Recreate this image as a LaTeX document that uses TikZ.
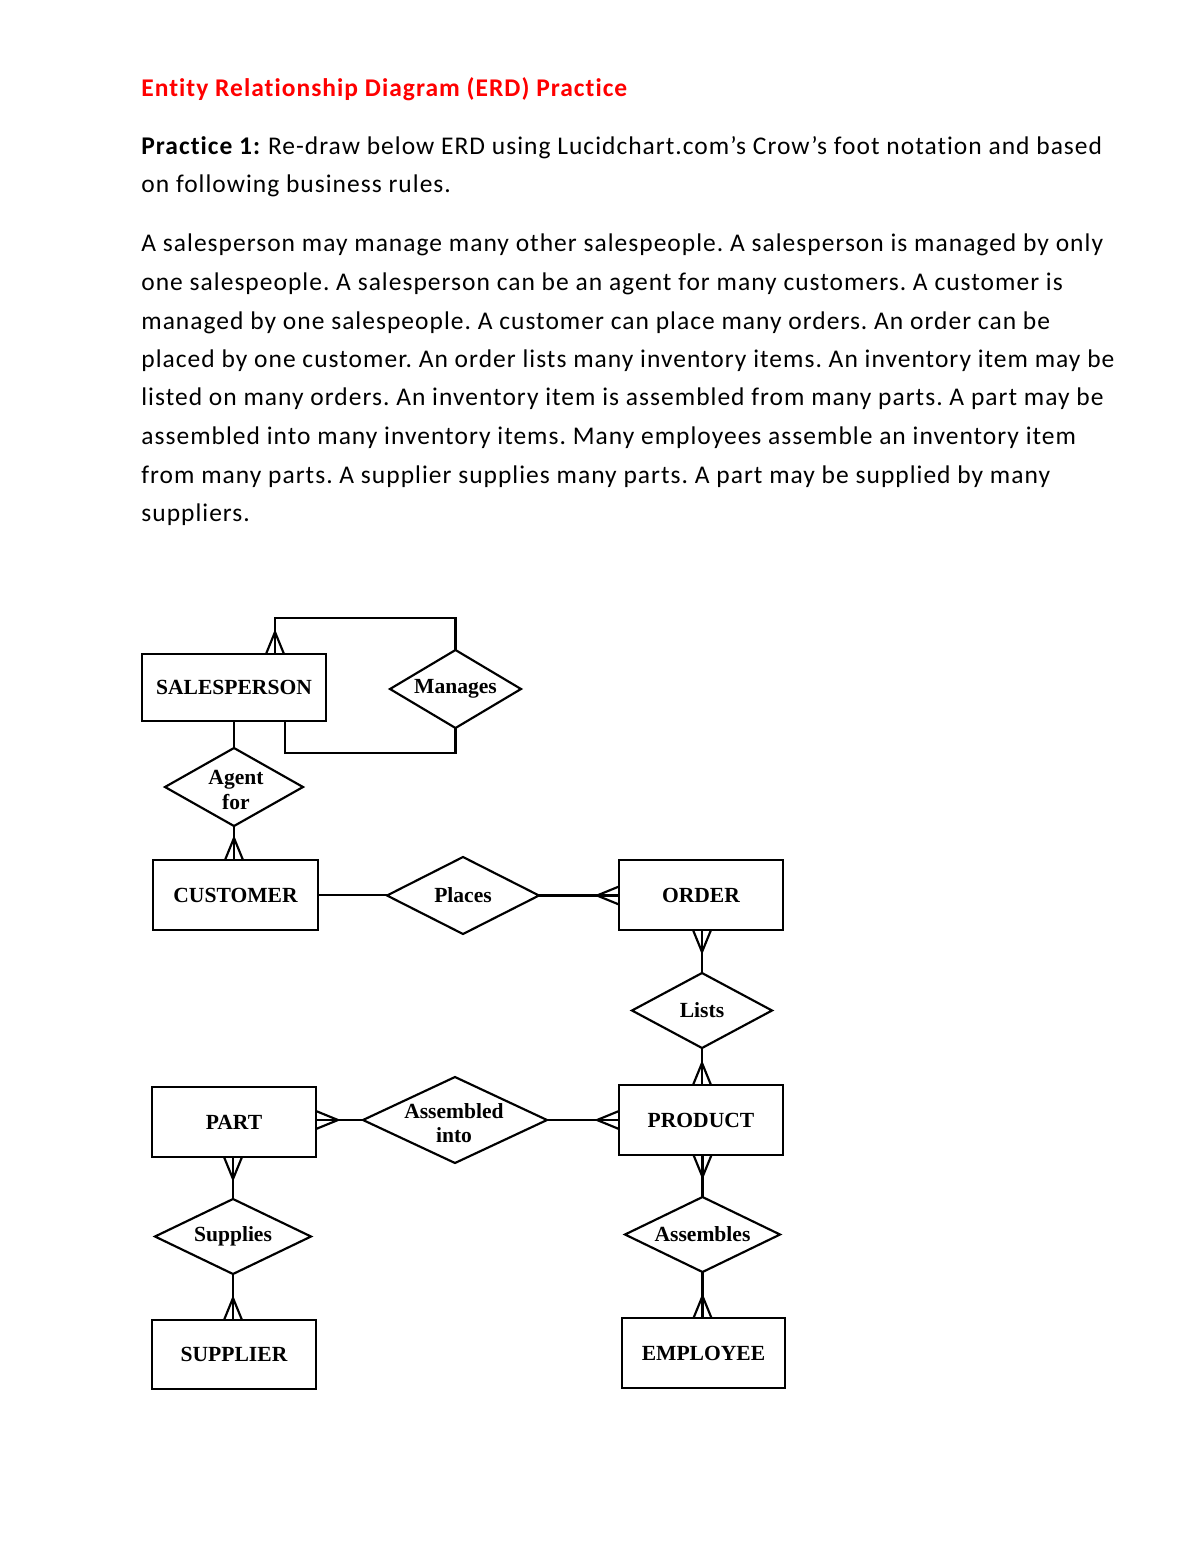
\documentclass[tikz,border=0pt]{standalone}
\usepackage{fontspec}
\setmainfont{Carlito}[LetterSpace=4,Ligatures={NoCommon}]
\newfontfamily\erdfont{Liberation Serif}
\usetikzlibrary{shapes.geometric,calc}
\definecolor{titlered}{RGB}{255,0,0}
\newcommand\px{0.51pt}
\newcommand\crowN[1]{\draw[conn] ($(#1)+(-9,0)$) -- ($(#1)+(0,-22)$) -- ($(#1)+(9,0)$);}
\newcommand\crowS[1]{\draw[conn] ($(#1)+(-9,0)$) -- ($(#1)+(0,22)$) -- ($(#1)+(9,0)$);}
\newcommand\crowW[1]{\draw[conn] ($(#1)+(0,-9)$) -- ($(#1)+(-22,0)$) -- ($(#1)+(0,9)$);}
\newcommand\crowE[1]{\draw[conn] ($(#1)+(0,-9)$) -- ($(#1)+(22,0)$) -- ($(#1)+(0,9)$);}
\frenchspacing
\begin{document}
\begin{tikzpicture}[x=0.51pt,y=-0.51pt,
  body/.style={anchor=base west, inner sep=0pt, font=\fontsize{13}{15}\selectfont},
  ent/.style={draw, line width=1.5pt, rectangle, inner sep=0pt, outer sep=0pt,
    minimum width=164*\px, minimum height=70*\px,
    font=\erdfont\bfseries\fontsize{11}{12}\selectfont},
  rel/.style={draw, line width=1.1pt, diamond, inner sep=0pt, outer sep=0pt},
  rlbl/.style={inner sep=0pt, align=center,
    font=\erdfont\bfseries\fontsize{11}{12.5}\selectfont},
  conn/.style={line width=1.1pt},
]
\useasboundingbox[fill=white] (0,0) rectangle (1200,1553);

% ---------- text ----------
\node[body, text=titlered, font=\bfseries\fontsize{13}{15}\selectfont] (title) at (141,97)
  {Entity Relationship Diagram (ERD) Practice};
\node[body] (p1a) at (141,155) {\textbf{Practice 1:} Re-draw below ERD using Lucidchart.com’s Crow’s foot notation and based};
\node[body] (p1b) at (141,193) {on following business rules.};
\node[body] (l1) at (141,251) {A salesperson may manage many other salespeople. A salesperson is managed by only};
\node[body] (l2) at (141,290) {one salespeople. A salesperson can be an agent for many customers. A customer is};
\node[body] (l3) at (141,329) {managed by one salespeople. A customer can place many orders. An order can be};
\node[body] (l4) at (141,367) {placed by one customer. An order lists many inventory items. An inventory item may be};
\node[body] (l5) at (141,405) {listed on many orders. An inventory item is assembled from many parts. A part may be};
\node[body] (l6) at (141,444) {assembled into many inventory items. Many employees assemble an inventory item};
\node[body] (l7) at (141,483) {from many parts. A supplier supplies many parts. A part may be supplied by many};
\node[body] (l8) at (141,521) {suppliers.};

% ---------- entities ----------
\node[ent, minimum width=184*\px, minimum height=67*\px] (sp) at (234,687.5) {SALESPERSON};
\node[ent, minimum width=165*\px] (cust) at (235.5,895) {CUSTOMER};
\node[ent] (ord) at (701,895) {ORDER};
\node[ent] (prod) at (701,1120) {PRODUCT};
\node[ent] (part) at (234,1122) {PART};
\node[ent, minimum height=69*\px] (supp) at (234,1354.5) {SUPPLIER};
\node[ent, minimum width=163*\px] (emp) at (703.5,1353) {EMPLOYEE};

% ---------- relationships ----------
\node[rel, minimum width=131*\px, minimum height=78*\px] (man) at (455.5,689) {};
\node[rlbl] (man-t) at (man) {Manages};
\node[rel, minimum width=138*\px, minimum height=78*\px] (agt) at (234,787) {};
\node[rlbl] (agt-t) at (236,790) {Agent\\for};
\node[rel, minimum width=152*\px, minimum height=77*\px] (plc) at (463,895.5) {};
\node[rlbl] (plc-t) at (plc) {Places};
\node[rel, minimum width=140*\px, minimum height=75*\px] (lst) at (702,1010.5) {};
\node[rlbl] (lst-t) at (lst) {Lists};
\node[rel, minimum width=184*\px, minimum height=86*\px] (asm) at (455,1120) {};
\node[rlbl] (asm-t) at (454,1123) {Assembled\\into};
\node[rel, minimum width=156*\px, minimum height=75*\px] (sup) at (233,1236.5) {};
\node[rlbl] (sup-t) at (sup) {Supplies};
\node[rel, minimum width=155*\px, minimum height=75*\px] (asb) at (702.5,1234.5) {};
\node[rlbl] (asb-t) at (asb) {Assembles};

% ---------- connectors ----------
\coordinate (lt) at (275,618);
\coordinate (lb) at (285,753);
\draw[conn] (lt |- sp.north) -- (lt) -| (man.north);
\draw[conn] (man.south) |- (lb) -- (lb |- sp.south);
\crowN{lt |- sp.north}

\draw[conn] (sp.south -| agt.north) -- (agt.north);
\draw[conn] (agt.south) -- (agt.south |- cust.north);
\crowN{agt.south |- cust.north}

\draw[conn] (cust.east) -- (cust.east -| plc.west);
\draw[conn] (plc.east) -- (plc.east -| ord.west);
\crowW{plc.east -| ord.west}

\draw[conn] (lst.north |- ord.south) -- (lst.north);
\crowS{lst.north |- ord.south}
\draw[conn] (lst.south) -- (lst.south |- prod.north);
\crowN{lst.south |- prod.north}

\draw[conn] (asm.west -| part.east) -- (asm.west);
\crowE{asm.west -| part.east}
\draw[conn] (asm.east) -- (asm.east -| prod.west);
\crowW{asm.east -| prod.west}

\draw[conn] (sup.north |- part.south) -- (sup.north);
\crowS{sup.north |- part.south}
\draw[conn] (sup.south) -- (sup.south |- supp.north);
\crowN{sup.south |- supp.north}

\draw[conn] (asb.north |- prod.south) -- (asb.north);
\crowS{asb.north |- prod.south}
\draw[conn] (asb.south) -- (asb.south |- emp.north);
\crowN{asb.south |- emp.north}
\end{tikzpicture}
\end{document}
